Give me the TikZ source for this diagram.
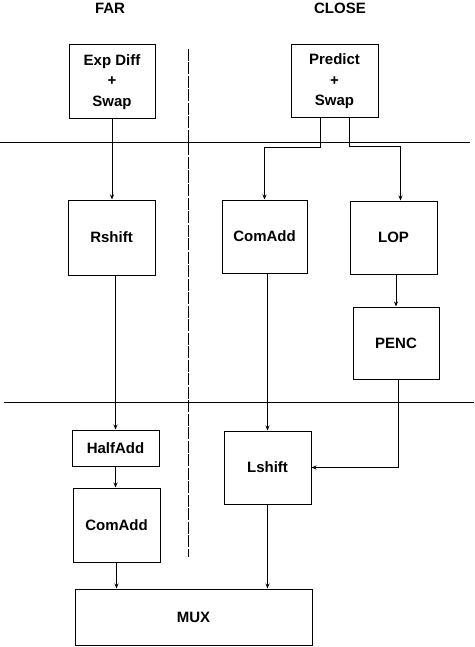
\documentclass[tikz,border=0pt]{standalone}
\usepackage{fontspec}
\setmainfont{Liberation Sans}
\usetikzlibrary{arrows.meta}
\begin{document}
\begin{tikzpicture}[x=1pt,y=-1pt,
    block/.style={draw,line width=1pt,align=center,inner sep=0pt,
      font=\fontsize{15}{20.5}\selectfont\bfseries},
    title/.style={font=\fontsize{15}{18}\selectfont\bfseries},
    arr/.style={-{Stealth[length=5pt,width=4pt]},line width=0.8pt}]
        \useasboundingbox (0,0) rectangle (474,647);

        % Define the columns
        \node[title] (far) at (110,8) {FAR};
        \node[title] (close) at (340,8) {CLOSE};

        % Define the blocks
        \node[block,minimum width=86,minimum height=74] (expdiff) at (112,82) {Exp Diff\\+\\Swap};
        \node[block,minimum width=87,minimum height=73] (predict) at (334.5,81.5) {Predict\\+\\Swap};
        \node[block,minimum width=87,minimum height=75] (rshift) at (111.5,237.5) {Rshift};
        \node[block,minimum width=85,minimum height=73] (comaddC) at (264.5,236.5) {ComAdd};
        \node[block,minimum width=87,minimum height=73] (lop) at (393.5,237.5) {LOP};
        \node[block,minimum width=86,minimum height=72] (penc) at (396,343) {PENC};
        \node[block,minimum width=87,minimum height=36] (halfadd) at (115.5,448) {HalfAdd};
        \node[block,minimum width=87,minimum height=74] (comaddF) at (116.5,525) {ComAdd};
        \node[block,minimum width=87,minimum height=73] (lshift) at (267.5,467.5) {Lshift};
        \node[block,minimum width=237,minimum height=56] (mux) at (193.5,617) {MUX};

        % Draw arrows
        \draw[arr] (expdiff.south) -- (expdiff.south |- rshift.north);
        \draw[arr] ([xshift=-14.5pt]predict.south) -- ++(0,29) -| (comaddC.north);
        \draw[arr] ([xshift=14.5pt]predict.south) -- ++(0,28) -| ([xshift=7pt]lop.north);
        \draw[arr] (halfadd.north |- rshift.south) -- (halfadd.north);
        \draw[arr] (halfadd.south) -- (halfadd.south |- comaddF.north);
        \draw[arr] (comaddF.south) -- (comaddF.south |- mux.north);
        \draw[arr] (lshift.north |- comaddC.south) -- (lshift.north);
        \draw[arr] (lop.south -| penc.north) -- (penc.north);
        \draw[arr] ([xshift=2pt]penc.south) |- (lshift.east);
        \draw[arr] (lshift.south) -- (lshift.south |- mux.north);

        % Draw stages
        \draw[line width=0.8pt] (0,142) -- (470,142);
        \draw[line width=0.8pt] (4,402) -- (474,402);
        \draw[line width=0.7pt,dash pattern=on 12pt off 1.5pt] (188,49) -- (188,557);
    \end{tikzpicture}
\end{document}
